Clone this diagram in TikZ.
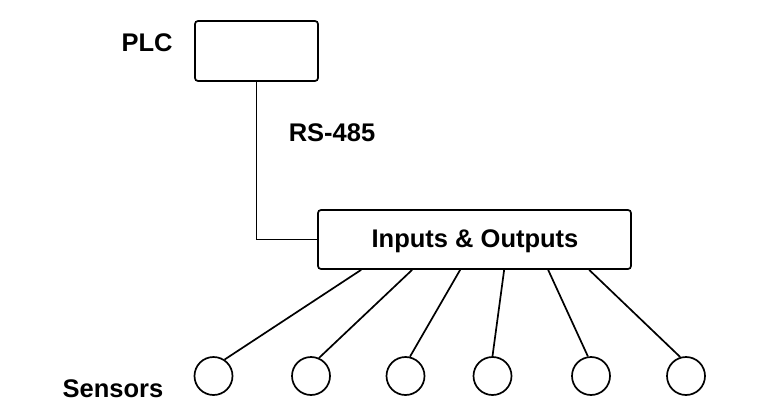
\documentclass[tikz,border=0pt]{standalone}
\usepackage{fontspec}
\setmainfont{Liberation Sans}
\usetikzlibrary{calc}
\begin{document}
\begin{tikzpicture}[x=1pt,y=-1pt,
  lbl/.style={font=\fontsize{25.5}{30}\selectfont\bfseries, anchor=base, inner sep=0pt},
  boxnode/.style={draw, line width=1.7pt, rounded corners=3pt, inner sep=0pt},
  sensor/.style={draw, circle, line width=1.7pt, minimum size=38pt, inner sep=0pt},
  wire/.style={line width=1.7pt}]
\useasboundingbox (0,0) rectangle (760,420);
\fill[white] (0,0) rectangle (760,420);
% PLC
\node[boxnode, minimum width=123pt, minimum height=60pt] (plc) at (256.5,51) {};
\node[lbl] (plclbl) at (147,52) {PLC};
% IO box
\node[boxnode, minimum width=313pt, minimum height=59pt] (io) at (474.5,239.5) {};
\node[lbl] (iolbl) at (475,247) {Inputs \& Outputs};
\node[lbl] (rs) at (332,141) {RS-485};
\draw[wire] (plc.south) |- (io.west);
% sensors
\node[sensor] (s1) at (213.5,376) {};
\node[sensor] (s2) at (311,376) {};
\node[sensor] (s3) at (405.5,376) {};
\node[sensor] (s4) at (492.5,376) {};
\node[sensor] (s5) at (591,376) {};
\node[sensor] (s6) at (686,376) {};
\node[lbl] (senslbl) at (113,397) {Sensors};
% connection points on IO bottom
\coordinate (p1) at ($(io.south west)+(44,0)$);
\coordinate (p2) at ($(io.south west)+(95,0)$);
\coordinate (p3) at ($(io.south west)+(143,0)$);
\coordinate (p4) at ($(io.south west)+(187,0)$);
\coordinate (p5) at ($(io.south west)+(231,0)$);
\coordinate (p6) at ($(io.south west)+(272,0)$);
\draw[wire] (p1) -- (s1.56);
\draw[wire] (p2) -- (s2.66);
\draw[wire] (p3) -- (s3.77);
\draw[wire] (p4) -- (s4.90);
\draw[wire] (p5) -- (s5.99);
\draw[wire] (p6) -- (s6.107);
\end{tikzpicture}
\end{document}
